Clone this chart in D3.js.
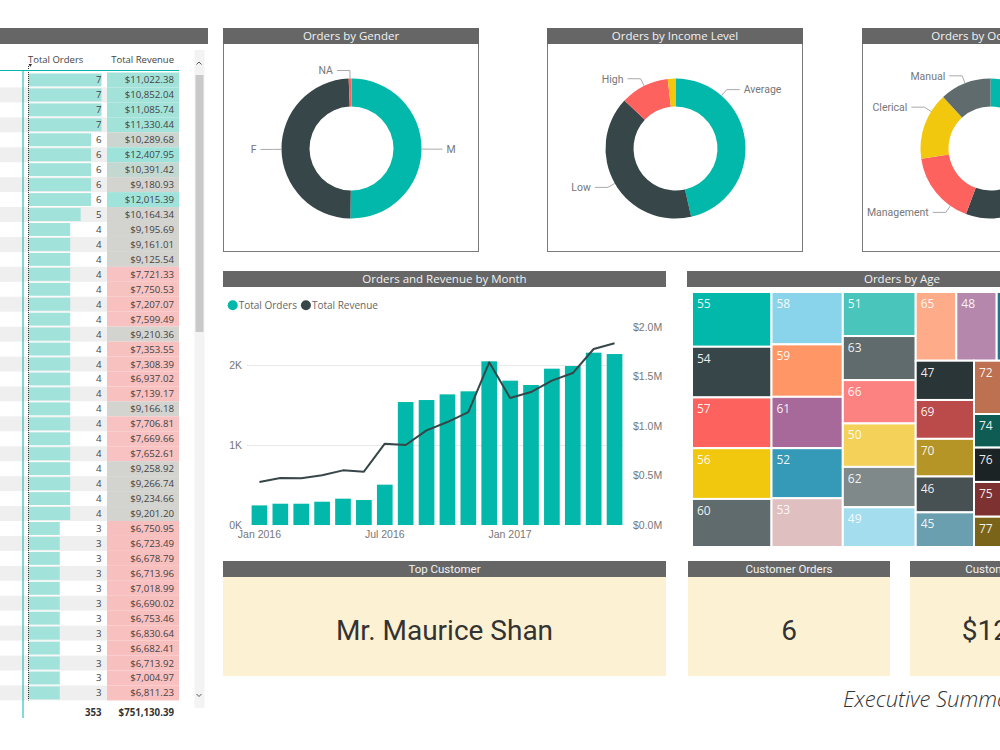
<!DOCTYPE html>
<html><head><meta charset="utf-8">
<script src="https://cdn.jsdelivr.net/npm/d3@7/dist/d3.min.js"></script>
<style>
html,body{margin:0;padding:0;background:#fff;overflow:hidden}
svg{display:block;font-family:"Segoe UI","Open Sans","Noto Sans",sans-serif}
</style></head><body>
<svg id="c" width="1000" height="750"></svg>
<script>
// ---------------- DATA ----------------
const tableOrders = [7,7,7,7,6,6,6,6,6,5,4,4,4,4,4,4,4,4,4,4,4,4,4,4,4,4,4,4,4,4,3,3,3,3,3,3,3,3,3,3,3,3];
const tableRevenue = [11022.38,10852.04,11085.74,11330.44,10289.68,12407.95,10391.42,9180.93,12015.39,10164.34,
  9195.69,9161.01,9125.54,7721.33,7750.53,7207.07,7599.49,9210.36,7353.55,7308.39,6937.02,7139.17,9166.18,
  7706.81,7669.66,7652.61,9258.92,9266.74,9234.66,9201.20,6750.95,6723.49,6678.79,6713.96,7018.99,6690.02,
  6753.46,6830.64,6682.41,6713.92,7004.97,6811.23];
const tableTotalOrders = 353;
const tableTotalRevenue = 751130.39;
const tableColumns = ["Total Orders","Total Revenue"];

const genderCats = ["M","F","NA"];
const genderOrders = [9351,9133,120];
const incomeCats = ["Average","Low","High","Very High"];
const incomeOrders = [8630,7550,2090,330];
const occupationCats = ["Professional","Skilled Manual","Management","Clerical","Manual"];
const occupationOrders = [5490,4870,3160,2880,2200];

const months = ["2016-01","2016-02","2016-03","2016-04","2016-05","2016-06","2016-07","2016-08","2016-09",
  "2016-10","2016-11","2016-12","2017-01","2017-02","2017-03","2017-04","2017-05","2017-06"];
const monthOrders = [245,266,266,291,329,312,504,1537,1562,1633,1671,2046,1804,1750,1954,1987,2154,2137];
const monthRevenue = [434000,475000,472000,502000,552000,539000,821000,808000,956000,1040000,1141000,1643000,
  1283000,1343000,1458000,1535000,1778000,1835000];
const orderTicks = [0,1000,2000];
const revenueTicks = [0,500000,1000000,1500000,2000000];
const monthTicks = ["2016-01","2016-07","2017-01"];
const seriesNames = ["Total Orders","Total Revenue"];

const ageLabels = [55,54,57,56,60,58,59,61,52,53,51,63,66,50,62,49,65,48,64,67,68,47,69,70,46,45,72,71,73,44,
  74,76,75,77,78,79,80,43,81,82,83,84,85];
const ageOrders = [4354,4028,4036,4036,3821,3734,3741,3663,3570,3477,3212,3212,3161,3168,2942,2898,
  2789,2775,2680,2660,2651,2289,2266,2195,2090,2019,2000,1820,1800,1789,1681,1717,1737,1515,
  1480,1440,1400,1360,1320,1280,1250,1210,1099];

const topCustomer = "Mr. Maurice Shan";
const topCustomerOrders = 6;
const topCustomerRevenue = 12407.95;
const pageTitle = "Executive Summary";

// ---------------- STYLE ----------------
const palette = ["#01B8AA","#374649","#FD625E","#F2C80F","#5F6B6D","#8AD4EB","#FE9666","#A66999","#3599B8","#DFBFBF",
  "#4AC5BB","#5F6B6D","#FB8281","#F4D25A","#7F898A","#A4DDEE","#FDAB89","#B687AC","#28738A","#A78F8F",
  "#168980","#293537","#BB4A4A","#B59525","#475052","#6A9FB0","#BD7150","#7B4F71","#1B4D5C","#706060",
  "#0F5C55","#1C2325","#7D3231","#796419","#303637","#476A75","#7E4B36","#52354C","#0D262E","#544848"];
const HEAD = "#666666";
const LBL = "#777777";
const DIN = '"Roboto","Segoe UI","Open Sans",sans-serif';

const svg = d3.select("#c");
svg.append("rect").attr("width",1000).attr("height",750).attr("fill","#fff");

function header(x,y,w,title,font){
  svg.append("rect").attr("x",x).attr("y",y).attr("width",w).attr("height",16).attr("fill",HEAD);
  if(title) svg.append("text").attr("x",x+w/2).attr("y",y+12).attr("text-anchor","middle")
    .attr("fill","#f2f2f2").attr("font-size",11.5).attr("font-family",font||null).text(title);
}

// ---------------- TABLE ----------------
(function(){
  const top0 = 72.5, rh = 14.95;
  header(0,28,208,null);
  const g = svg.append("g");
  const xo = d3.scaleLinear().domain([0,7]).range([28.5,101.5]);
  const rev = d3.scaleLinear().domain([6600,7900,9000,10200,10800,12500])
    .range(["#f8bfbf","#f7c3c1","#d3d3cf","#d3d3cf","#a3e2d9","#9ee3da"]).clamp(true);
  g.append("text").attr("x",28).attr("y",62.5).attr("font-size",9.5).attr("fill","#444").text(tableColumns[0]);
  g.append("text").attr("x",174).attr("y",62.5).attr("font-size",9.5).attr("fill","#444").attr("text-anchor","end").text(tableColumns[1]);
  g.append("path").attr("d","M28.5,64 l3.5,0 l-1.75,3 z").attr("fill","#333");
  g.append("rect").attr("x",194.5).attr("y",50).attr("width",10).attr("height",658).attr("fill","#f3f3f3");
  g.append("rect").attr("x",195.5).attr("y",75).attr("width",8).attr("height",257).attr("fill","#c9c9c9");
  g.append("path").attr("d","M196.5,64.5 l2.5,-2.5 l2.5,2.5").attr("fill","none").attr("stroke","#555");
  g.append("path").attr("d","M196.5,694 l2.5,2.5 l2.5,-2.5").attr("fill","none").attr("stroke","#555");

  tableOrders.forEach((n,i)=>{
    const t = top0 + i*rh, cy = t + rh/2;
    if(i%2===1) g.append("rect").attr("x",0).attr("y",t).attr("width",107).attr("height",rh).attr("fill","#efefef");
    g.append("rect").attr("x",xo(0)).attr("y",t+1).attr("width",xo(n)-xo(0)).attr("height",rh-2).attr("fill","#a1e3db");
    g.append("rect").attr("x",107).attr("y",t).attr("width",72).attr("height",rh).attr("fill",rev(tableRevenue[i]));
    g.append("text").attr("x",101.5).attr("y",cy+3.5).attr("text-anchor","end").attr("font-size",9.7).attr("fill","#444").text(n);
    g.append("text").attr("x",174).attr("y",cy+3.5).attr("text-anchor","end").attr("font-size",9.7).attr("fill","#444")
      .text(d3.format("$,.2f")(tableRevenue[i]));
  });
  const ty = top0 + tableOrders.length*rh;
  g.append("line").attr("x1",28.5).attr("x2",28.5).attr("y1",66).attr("y2",ty).attr("stroke","#333").attr("stroke-dasharray","1,1");
  g.append("line").attr("x1",0).attr("x2",179).attr("y1",70.5).attr("y2",70.5).attr("stroke","#01B8AA");
  g.append("line").attr("x1",23).attr("x2",23).attr("y1",70).attr("y2",718).attr("stroke","#01B8AA");
  g.append("text").attr("x",101.5).attr("y",715.5).attr("text-anchor","end").attr("font-size",9.7).attr("font-weight","bold").attr("fill","#333").text(tableTotalOrders);
  g.append("text").attr("x",174).attr("y",715.5).attr("text-anchor","end").attr("font-size",9.7).attr("font-weight","bold").attr("fill","#333")
    .text(d3.format("$,.2f")(tableTotalRevenue));
})();

// ---------------- DONUTS ----------------
function donut(px,title,cats,vals,labelAngles,hidden){
  svg.append("rect").attr("x",px+0.5).attr("y",28.5).attr("width",255).attr("height",223).attr("fill","#fff").attr("stroke","#7a7a7a");
  header(px,28,256,title);
  const cx = px+128.5, cy = 148.5, r = 70, ri = 42;
  const data = cats.map((c,i)=>({c,v:vals[i],col:palette[i]}));
  const pie = d3.pie().sort(null).value(d=>d.v);
  const arc = d3.arc().innerRadius(ri).outerRadius(r);
  const g = svg.append("g").attr("transform",`translate(${cx},${cy})`);
  const arcs = pie(data);
  g.selectAll("path.s").data(arcs).join("path").attr("class","s").attr("d",arc).attr("fill",d=>d.data.col);
  arcs.forEach(a=>{
    if(hidden.includes(a.data.c)) return;
    const ang = labelAngles[a.data.c]!==undefined ? labelAngles[a.data.c]*Math.PI/180 : (a.startAngle+a.endAngle)/2;
    const s = Math.sin(ang), c = Math.cos(ang);
    const side = s>=0?1:-1;
    const p0=[r*s,-r*c], p1=[(r+8)*s,-(r+8)*c], p2=[p1[0]+side*13,p1[1]];
    g.append("path").attr("d",`M${p0}L${p1}L${p2}`).attr("fill","none").attr("stroke","#aaa");
    g.append("text").attr("x",p2[0]+side*4).attr("y",p2[1]+3.8).attr("text-anchor",side>0?"start":"end")
      .attr("font-size",10.5).attr("font-family",DIN).attr("fill",LBL).text(a.data.c);
  });
}
donut(223,"Orders by Gender",genderCats,genderOrders,{},[]);
donut(547,"Orders by Income Level",incomeCats,incomeOrders,{"Average":41},["Very High"]);
donut(862,"Orders by Occupation",occupationCats,occupationOrders,{"Clerical":302,"Management":215},[]);

// ---------------- BAR + LINE ----------------
(function(){
  header(223,271,443,"Orders and Revenue by Month");
  const x = d3.scaleBand().domain(months).range([249,625]).paddingInner(0.25).paddingOuter(0.125);
  const yL = d3.scaleLinear().domain([0,2475]).range([525,327]);
  const yR = d3.scaleLinear().domain([0,2000000]).range([525,327]);
  const g = svg.append("g");
  // legend
  let lx = 232.7;
  [0,1].forEach(i=>{
    g.append("circle").attr("cx",lx).attr("cy",305.3).attr("r",5).attr("fill",palette[i]);
    const t = g.append("text").attr("x",lx+6).attr("y",309).attr("font-size",10).attr("fill","#666").text(seriesNames[i]);
    lx = lx + 6 + t.node().getComputedTextLength() + 9;
  });
  g.selectAll("line.grid").data(orderTicks.filter(d=>d>0)).join("line").attr("class","grid")
    .attr("x1",247).attr("x2",623).attr("y1",d=>yL(d)+0.5).attr("y2",d=>yL(d)+0.5).attr("stroke","#e8e8e8");
  const aL = g.append("g").attr("transform","translate(243,0)")
    .call(d3.axisLeft(yL).tickValues(orderTicks).tickFormat(d=>(d/1000)+"K").tickSize(0).tickPadding(1));
  const aR = g.append("g").attr("transform","translate(631,0)")
    .call(d3.axisRight(yR).tickValues(revenueTicks).tickFormat(d=>d3.format("$.1f")(d/1e6)+"M").tickSize(0).tickPadding(2));
  const fmt = d3.timeFormat("%b %Y"), parse = d3.timeParse("%Y-%m");
  const aB = g.append("g").attr("transform","translate(0,528)")
    .call(d3.axisBottom(x).tickValues(monthTicks).tickFormat(d=>fmt(parse(d))).tickSize(0).tickPadding(3));
  [aL,aR,aB].forEach(a=>{a.select(".domain").remove();a.selectAll("text").attr("fill",LBL).attr("font-size",10.5).attr("font-family",null);});
  g.selectAll("rect.bar").data(months).join("rect").attr("class","bar")
    .attr("x",d=>x(d)).attr("width",x.bandwidth()).attr("y",(d,i)=>yL(monthOrders[i])).attr("height",(d,i)=>525-yL(monthOrders[i]))
    .attr("fill",palette[0]);
  const line = d3.line().x(d=>x(d)+x.bandwidth()/2).y((d,i)=>yR(monthRevenue[i]));
  g.append("path").attr("d",line(months)).attr("fill","none").attr("stroke",palette[1]).attr("stroke-width",2).attr("stroke-linejoin","round");
})();

// ---------------- TREEMAP ----------------
(function(){
  header(687,271,430,"Orders by Age");
  const root = d3.hierarchy({children:ageLabels.map((a,i)=>({age:a,value:ageOrders[i],idx:i}))}).sum(d=>d.value||0);
  d3.treemap().tile(d3.treemapSquarify).size([421,255])(root);
  const g = svg.append("g").attr("transform","translate(692,292)");
  const cells = g.selectAll("g.cell").data(root.leaves()).join("g").attr("class","cell");
  cells.append("rect").attr("x",d=>d.x0).attr("y",d=>d.y0).attr("width",d=>d.x1-d.x0).attr("height",d=>d.y1-d.y0)
    .attr("fill",d=>palette[d.data.idx%palette.length]).attr("stroke","#fff").attr("stroke-width",2);
  cells.append("text").attr("x",d=>d.x0+5).attr("y",d=>d.y0+16).attr("font-size",12).attr("fill","#fff").attr("fill-opacity",0.92).text(d=>d.data.age);
})();

// ---------------- CARDS ----------------
function card(x,w,title,value){
  svg.append("rect").attr("x",x).attr("y",577).attr("width",w).attr("height",99).attr("fill","#fcf1d2");
  header(x,561,w,title,DIN);
  svg.append("text").attr("x",x+w/2).attr("y",640).attr("text-anchor","middle").attr("font-size",28).attr("font-family",DIN)
    .attr("fill","#333").text(value);
}
card(223,443,"Top Customer",topCustomer);
card(688,202,"Customer Orders",String(topCustomerOrders));
card(910,207,"Customer Revenue",d3.format("$.2f")(topCustomerRevenue/1000)+"K");

svg.append("text").attr("x",843).attr("y",707).attr("font-size",22).attr("font-style","italic").attr("font-weight",300)
  .attr("font-family",'"Open Sans","Segoe UI",sans-serif').attr("fill","#333").text(pageTitle);
</script>
</body></html>
